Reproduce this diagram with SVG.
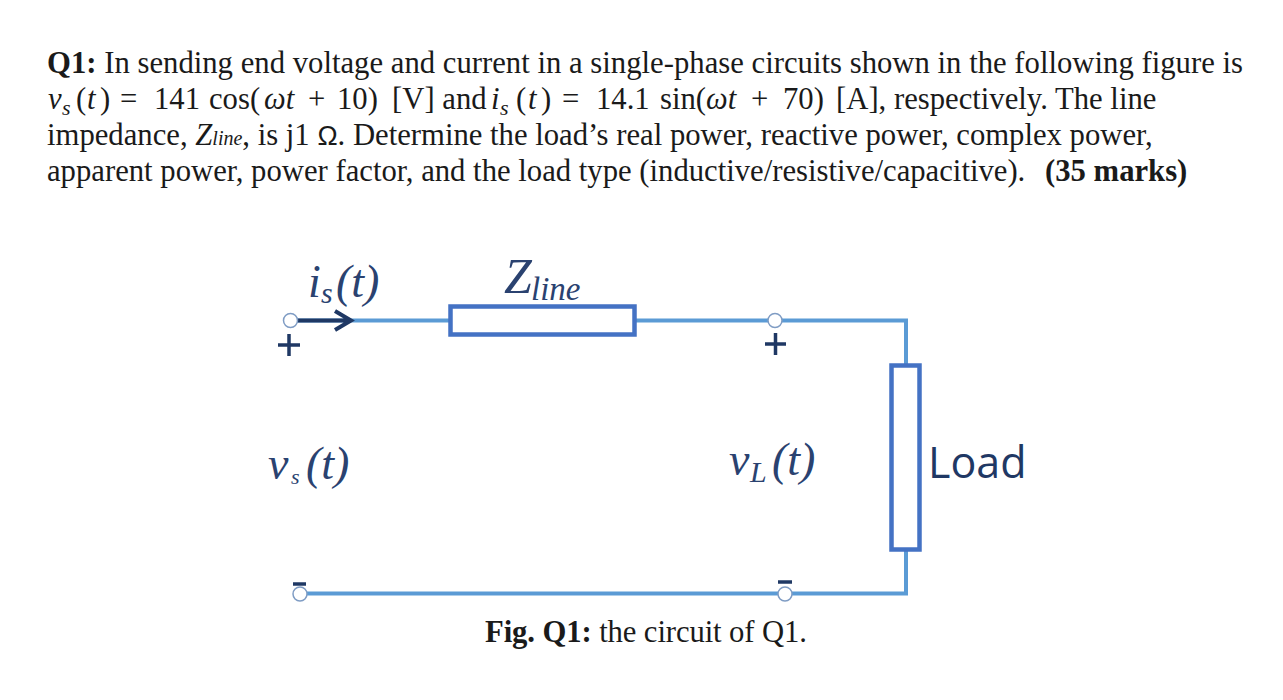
<svg xmlns="http://www.w3.org/2000/svg" width="1283" height="700" viewBox="0 0 1283 700">
<style>
.t{font-family:"Liberation Serif",serif;font-size:30.7px;fill:#1a1a1a}
.b{font-weight:bold}
.i{font-style:italic}
.w{fill:none;stroke:#5b9bd5;stroke-width:4}
.box{fill:#fff;stroke:#4472c4;stroke-width:4.5}
.term{fill:#fff;stroke:#7f9cc4;stroke-width:1.5}
.lab{font-family:"Liberation Serif",serif;font-style:italic;fill:#2a4270}
.sign{fill:none;stroke:#1f3864;stroke-width:3.5}
</style>
<rect width="1283" height="700" fill="#fff"/>
<g id="question">
<text class="t" x="47" y="73" textLength="1196"><tspan class="b">Q1:</tspan> In sending end voltage and current in a single-phase circuits shown in the following figure is</text>
<text class="t" y="109"><tspan class="i" x="48">v</tspan><tspan class="i" font-size="22" x="62" dy="6">s</tspan><tspan x="76" dy="-6">(</tspan><tspan class="i" x="87">t</tspan><tspan x="100">)</tspan><tspan x="120">=</tspan><tspan x="154">141</tspan><tspan x="209">cos(</tspan><tspan class="i" x="264">ωt</tspan><tspan x="308">+</tspan><tspan x="337">10)</tspan><tspan x="392">[V] and</tspan><tspan class="i" x="491">i</tspan><tspan class="i" font-size="22" x="500" dy="6">s</tspan><tspan x="516" dy="-6">(</tspan><tspan class="i" x="528">t</tspan><tspan x="541">)</tspan><tspan x="562">=</tspan><tspan x="596">14.1</tspan><tspan x="660">sin(</tspan><tspan class="i" x="706">ωt</tspan><tspan x="751">+</tspan><tspan x="783">70)</tspan><tspan x="836">[A], respectively. The line</tspan></text>
<text class="t" x="47" y="145">impedance, <tspan class="i">Z</tspan><tspan class="i" font-size="20">line</tspan>, is j1 <tspan font-family="'Liberation Sans',sans-serif" font-size="27">Ω</tspan>. Determine the load’s real power, reactive power, complex power,</text>
<text class="t" x="47" y="181">apparent power, power factor, and the load type (inductive/resistive/capacitive).</text>
<text class="t b" x="1045" y="181">(35 marks)</text>
</g>
<g id="connectors">
<path class="w" d="M296 320.500H450M636 320.500H906V365"/>
<path class="w" d="M306 593.500H906V550"/>
<path d="M297 320.500H350M335 311L351 320.500L335 330" fill="none" stroke="#1f3864" stroke-width="4"/>
</g>
<g id="zline">
<rect class="box" x="450.500" y="306.500" width="184" height="28"/>
<text class="lab" x="504" y="293" font-size="50">Z</text>
<text class="lab" x="531" y="300" font-size="33">line</text>
</g>
<g id="load">
<rect class="box" x="891.500" y="365.500" width="28" height="184"/>
<text x="928" y="478" font-family="'Open Sans',sans-serif" font-size="43" fill="#1f3864">Load</text>
</g>
<g id="source-plus">
<circle class="term" cx="290.500" cy="320.500" r="7"/>
<path class="sign" d="M278 345H300M289 334V356"/>
</g>
<g id="source-minus">
<circle class="term" cx="300" cy="594" r="7"/>
<path class="sign" d="M293 584H306"/>
</g>
<g id="load-plus">
<circle class="term" cx="775" cy="320.500" r="7"/>
<path class="sign" d="M765 344H786M775.500 333V355"/>
</g>
<g id="load-minus">
<circle class="term" cx="785" cy="594" r="7"/>
<path class="sign" d="M778 582H792"/>
</g>
<g id="labels">
<text class="lab" x="308" y="297" font-size="46">i</text>
<text class="lab" x="321" y="303" font-size="30">s</text>
<text class="lab" x="336" y="297" font-size="46">(t)</text>
<text class="lab" x="268" y="479" font-size="46">v</text>
<text class="lab" x="291" y="484" font-size="22">s</text>
<text class="lab" x="306" y="479" font-size="46">(t)</text>
<text class="lab" x="729" y="475" font-size="46">v</text>
<text class="lab" x="750" y="482" font-size="30">L</text>
<text class="lab" x="772" y="475" font-size="46">(t)</text>
</g>
<text class="t" x="485" y="642" textLength="322"><tspan class="b">Fig. Q1:</tspan> the circuit of Q1.</text>
</svg>
